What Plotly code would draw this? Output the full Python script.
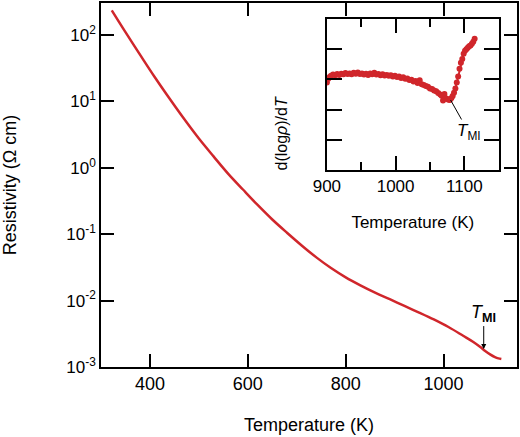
import plotly.graph_objects as go

# Main curve: temperature (K) and resistivity (Ohm cm)
T_main = [322, 350, 380, 410, 440, 470, 500, 530, 560, 590, 620, 650, 680, 710, 740, 770,
          800, 830, 860, 890, 920, 950, 980, 1010, 1040, 1060, 1075, 1085, 1095, 1105, 1112, 1118]
rho_main = [234, 110, 50, 23, 11, 5.4, 2.75, 1.48, 0.81, 0.47, 0.275, 0.166, 0.105, 0.0676,
            0.0447, 0.0309, 0.0224, 0.0170, 0.0132, 0.0105, 0.0083, 0.0066, 0.0052, 0.0040,
            0.00295, 0.0024, 0.0020, 0.00174, 0.00155, 0.00141, 0.00135, 0.00132]

# Inset: d(log rho)/dT (arbitrary units)
T_inset = [900, 902, 904, 906, 909, 912, 915, 918, 921, 924, 927, 930, 933, 936, 939, 942, 945,
           948, 951, 954, 957, 960, 963, 966, 969, 972, 975, 978, 981, 984, 987, 990, 993, 996,
           999, 1002, 1005, 1008, 1011, 1014, 1017, 1020, 1023, 1026, 1029, 1032, 1035, 1038,
           1041, 1044, 1047, 1050, 1053, 1056, 1059, 1062, 1065, 1067, 1069, 1071, 1073, 1075,
           1077, 1079, 1081, 1083, 1085, 1087, 1089, 1091, 1093, 1095, 1097, 1099, 1101, 1103,
           1105, 1107, 1109, 1111, 1113, 1115]
dlog_inset = [2.90, 3.02, 3.08, 3.12, 3.16, 3.14, 3.18, 3.15, 3.19, 3.17, 3.21, 3.18, 3.20, 3.17,
              3.22, 3.19, 3.23, 3.18, 3.20, 3.16, 3.19, 3.15, 3.20, 3.17, 3.22, 3.16, 3.18, 3.14,
              3.17, 3.13, 3.15, 3.12, 3.14, 3.10, 3.12, 3.08, 3.10, 3.05, 3.07, 3.02, 3.03, 2.98,
              2.99, 2.93, 2.95, 2.88, 2.97, 2.84, 2.82, 2.78, 2.76, 2.70, 2.68, 2.63, 2.61, 2.55,
              2.50, 2.46, 2.30, 2.52, 2.38, 2.35, 2.33, 2.32, 2.38, 2.45, 2.56, 2.70, 2.90, 3.10,
              3.35, 3.55, 3.68, 3.85, 3.95, 4.00, 4.05, 4.10, 4.12, 4.18, 4.25, 4.35]

y_tickvals = [1e-3, 1e-2, 1e-1, 1e0, 1e1, 1e2]
y_ticktext = ["10<sup>-3</sup>", "10<sup>-2</sup>", "10<sup>-1</sup>", "10<sup>0</sup>",
              "10<sup>1</sup>", "10<sup>2</sup>"]
x_tickvals = [400, 600, 800, 1000]

RED = "#d0262b"
FONT = "Liberation Sans, Arial, sans-serif"

fig = go.Figure()
fig.add_trace(go.Scatter(x=T_main, y=rho_main, mode="lines",
                         line=dict(color=RED, width=2.5, shape="spline"),
                         xaxis="x", yaxis="y", hoverinfo="skip"))
fig.add_trace(go.Scatter(x=T_inset, y=dlog_inset, mode="lines+markers",
                         line=dict(color=RED, width=2),
                         marker=dict(size=6, color=RED),
                         xaxis="x2", yaxis="y2", hoverinfo="skip"))

axis_common = dict(showline=True, linecolor="black", linewidth=1.5, mirror="ticks",
                   ticks="inside", tickcolor="black", tickwidth=1.5,
                   showgrid=False, zeroline=False)

fig.update_layout(
    width=520, height=437,
    margin=dict(l=101, r=1, t=1, b=70),
    paper_bgcolor="white", plot_bgcolor="white",
    showlegend=False,
    font=dict(family=FONT, size=17, color="black"),
    xaxis=dict(range=[300, 1150], tickvals=x_tickvals, ticklen=13, tickfont=dict(size=18),
               title=dict(text="Temperature (K)", standoff=25, font=dict(size=18)),
               **axis_common),
    yaxis=dict(type="log", range=[-3, 2.48], tickvals=y_tickvals, ticktext=y_ticktext,
               ticklen=13, tickfont=dict(size=17),
               title=dict(text="Resistivity (Ω cm)", standoff=49, font=dict(size=18)),
               **axis_common),
    xaxis2=dict(domain=[0.543, 0.956], anchor="y2", range=[900, 1150],
                tick0=900, dtick=100, ticklen=14, tickfont=dict(size=17),
                minor=dict(ticks="inside", ticklen=8, tickwidth=1.5, tickcolor="black",
                           tick0=900, dtick=50),
                title=dict(text="Temperature (K)", standoff=21, font=dict(size=17)),
                **axis_common),
    yaxis2=dict(domain=[0.541, 0.956], anchor="x2", range=[0, 5],
                tickvals=[1, 2, 3, 4], showticklabels=False, ticklen=15, **axis_common),
    annotations=[
        dict(x=1080, y=2.32, xref="x2", yref="y2", text="<i>T</i><sub>MI</sub>",
             showarrow=True, arrowhead=0, arrowwidth=1, arrowcolor="black",
             ax=18, ay=32, font=dict(size=17)),
        dict(x=1082, y=-2.73, xref="x", yref="y", text="<i>T</i><sub><b>MI</b></sub>",
             showarrow=True, arrowhead=2, arrowsize=1, arrowwidth=1, arrowcolor="black",
             ax=0, ay=-36, font=dict(size=18)),
        dict(x=0.433, y=0.749, xref="paper", yref="paper",
             text="d(log<i>ρ</i>)/d<i>T</i>", textangle=-90, showarrow=False,
             font=dict(size=16)),
    ],
)

fig.write_html("out.html")
